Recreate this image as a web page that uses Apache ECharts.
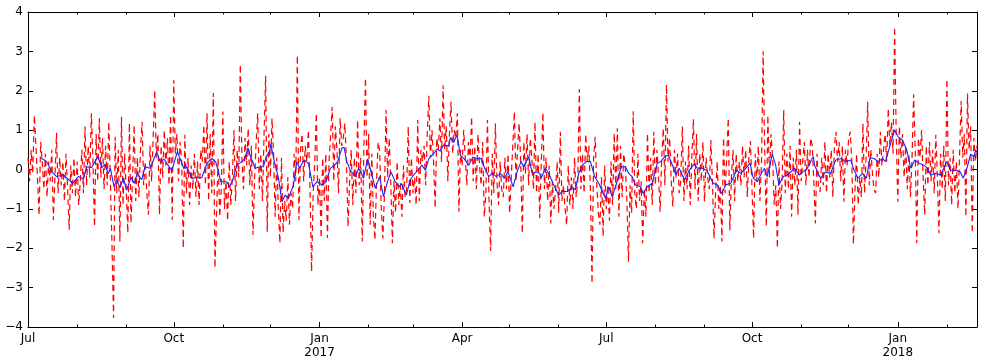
<!DOCTYPE html>
<html>
<head>
<meta charset="utf-8">
<script src="https://cdn.jsdelivr.net/npm/echarts@6/dist/echarts.min.js"></script>
<style>
html,body{margin:0;padding:0;background:#fff;}
#chart{width:986px;height:361px;}
</style>
</head>
<body>
<div id="chart"></div>
<script>
// ---- data ----
const startDate = '2016-07-01';
// daily values (red dashed), one per day from startDate
const dailyValues = [
 0.3,-0.3,0.5,-0.1,1.38,0.6,-0.2,-1.16,0.7,0.2,
 -0.5,0.4,-0.7,0.2,-0.3,0.5,-1.28,-0.2,0.93,-0.6,
 0.3,-0.4,0.2,-0.8,0.4,-0.5,-1.53,0.1,-0.6,0.3,
 -0.7,0.2,-0.9,-0.3,0.5,-0.6,1.09,-0.4,0.6,-0.2,
 1.43,0.2,-1.45,0.9,-0.3,1.3,-0.2,0.8,-0.5,0.6,
 -0.4,1.21,-0.3,-1.9,-3.77,0.83,-0.6,0.5,-1.83,1.34,
 -0.9,0.4,-0.5,-1.61,1.18,-1.36,-0.2,1.13,-0.8,0.3,
 -0.7,0.5,1.21,-0.4,0.2,-0.6,-1.15,0.6,-0.3,0.8,
 2.02,0.3,0.9,-1.15,0.6,-0.2,1.0,0.1,0.8,-0.4,
 1.38,-1.28,2.27,0.4,0.9,-0.3,0.7,0.2,-2.0,0.88,
 -0.6,0.3,-0.9,0.1,-0.5,0.4,-0.7,0.2,-0.9,0.5,
 0.2,1.13,-0.4,1.43,-0.8,0.9,-0.6,1.94,-2.5,-2.5,
 0.3,-1.2,-0.5,1.47,-1.0,-0.3,-1.3,0.2,-0.9,-0.2,
 1.0,-0.8,0.5,-0.2,2.67,0.3,-0.5,0.8,0.1,1.05,
 -0.4,0.6,-1.66,-0.3,0.7,1.43,-0.5,0.4,-0.8,0.9,
 2.38,-1.58,0.9,-0.2,1.3,0.4,-1.2,0.3,-1.0,-1.87,
 0.3,-1.6,-0.8,-1.3,-0.2,-1.4,-0.6,-1.0,0.4,-0.3,
 2.9,-1.28,0.5,0.9,-0.3,0.6,0.2,1.0,-0.5,-2.59,
 -0.6,0.2,1.43,-0.9,-0.2,-1.74,0.3,-0.8,0.4,-1.74,
 0.2,0.9,1.59,-0.3,1.1,0.5,-0.6,1.3,0.6,0.8,
 1.17,0.2,-1.45,-0.3,0.5,-0.9,0.3,-0.6,1.26,-0.4,
 0.3,-1.83,0.6,2.33,-0.2,0.9,-1.4,0.4,-1.2,-1.79,
 -0.3,0.7,0.45,-1.0,-1.75,-0.6,1.51,-0.2,0.8,-0.4,
 -1.87,-0.3,-1.1,0.2,-0.9,-0.4,-1.2,0.1,-0.7,-0.5,
 1.09,-0.85,0.3,-0.6,-0.2,-0.9,1.26,-0.8,0.5,0.2,
 0.6,-0.4,0.9,1.87,0.3,1.0,0.2,-0.98,0.8,0.5,
 1.3,0.2,2.14,0.5,1.1,-0.3,0.9,1.72,0.4,1.0,
 0.8,1.43,-1.07,0.5,0.1,1.0,0.3,-0.4,0.7,0.2,
 1.34,-0.3,0.6,-0.5,0.9,0.1,-0.4,0.7,-1.2,-0.6,
 1.26,-0.8,-2.07,0.4,-0.6,1.17,-0.3,-0.9,0.2,-0.5,
 -0.7,0.3,-0.5,0.4,-1.11,-0.2,0.6,1.47,-0.3,0.5,
 1.18,0.2,-1.62,0.7,-0.1,0.9,-0.4,0.8,0.3,-0.5,
 1.21,-0.6,0.4,-1.23,0.2,1.45,-0.5,0.3,-0.8,0.1,
 -1.37,-0.3,-1.0,-0.5,0.2,-1.1,0.96,-0.8,-0.4,-1.0,
 -1.41,0.1,-0.9,-0.2,-1.0,0.3,-0.7,-0.3,2.04,-0.5,
 0.4,-0.6,0.9,0.2,0.6,-0.5,-2.89,0.3,0.83,-0.4,
 -1.1,-1.4,-0.2,-1.7,0.1,-1.0,-0.4,-1.3,0.2,-0.9,
 0.92,-0.5,1.05,-1.2,0.6,-0.7,0.4,0.1,-0.8,-2.34,
 -0.4,-1.1,1.48,-0.6,-1.0,0.4,-0.8,-0.3,-1.87,-0.5,
 -1.2,0.92,-0.6,0.3,-0.9,0.96,-0.4,0.5,-0.2,-1.07,
 0.3,1.05,-0.4,2.16,0.2,0.8,-0.3,-0.94,0.5,-0.2,
 0.4,-0.6,-0.3,1.09,-0.8,0.2,-0.5,0.6,-0.9,0.3,
 1.28,-0.5,0.9,-0.8,0.4,-0.3,0.7,-0.82,0.3,-0.2,
 -0.5,0.75,-0.3,-1.75,-0.6,0.2,-1.0,-0.4,-1.83,0.81,
 -0.6,0.3,1.3,-1.54,-0.2,0.5,-0.8,0.4,-0.3,0.2,
 -0.4,0.6,-0.2,0.5,-0.7,0.3,0.72,-0.5,-1.75,0.4,
 -0.3,0.6,-0.8,0.2,3.0,0.5,-1.45,1.38,-0.2,0.9,
 0.3,-0.9,-0.4,-2.0,0.2,-1.0,-0.3,1.51,-0.6,0.4,
 -0.5,0.6,-1.2,0.3,-0.4,0.5,-1.15,1.21,-0.3,0.2,
 0.7,-0.4,0.5,-0.2,0.8,0.62,-0.3,-1.37,0.4,-0.5,
 -0.56,0.3,-0.4,0.71,-0.6,0.4,-0.2,0.5,-0.7,0.6,
 0.96,0.2,0.7,-0.3,0.6,-0.82,0.5,0.1,0.8,0.96,
 0.2,-1.9,-0.5,0.4,-0.9,-0.2,-0.7,1.17,-0.6,0.3,
 1.72,-0.4,0.5,-0.1,-0.5,-0.6,0.4,-0.2,0.96,0.1,
 0.5,0.9,0.2,1.55,0.6,1.2,0.4,3.62,0.9,-0.82,
 1.1,0.3,0.9,-0.2,0.6,-0.5,0.4,-0.7,0.3,1.91,
 0.5,-1.87,0.8,0.3,1.0,-0.2,-1.15,0.6,-0.4,0.7,
 -0.3,0.5,-0.6,0.88,-0.2,-1.62,0.4,-0.5,0.6,-0.8,
 2.3,-0.4,0.3,-0.9,0.5,-0.6,0.2,-1.0,0.4,1.74,
 0.3,0.9,-1.2,1.93,0.5,1.1,-1.62,0.8,0.2,0.6
];
// rolling mean (blue), read at day offsets from startDate
const rollDays = [8,11.8,15,18.1,22.3,28.2,31.8,35,37.1,40.2,44,46.6,48.5,50.7,52,54.3,56,58.1,60.1,62.3,65,67,69,71.8,73.9,77,81.3,83.4,86,87.6,90.8,94.3,96.7,98.5,99.3,101.3,103.4,106.5,109.7,112.9,116.1,118.4,119.6,121.7,125.5,127.1,129.3,131.8,134.9,137,138.8,140.2,143.4,146.5,148.6,150.3,152.4,153.3,155,158.1,160.3,162.3,164.4,167.6,169.7,171.4,174.3,177.1,179.8,182.4,185.5,188.2,190.8,193.5,195.4,198.2,199.5,201.3,203.4,206.6,208.7,211.8,214.4,217.1,219.2,221.9,224.4,226.6,229.1,231.8,234.5,235.5,238.8,241.3,243.4,245.9,248.7,250.8,252.9,256.1,258.2,260.2,262.3,265.5,266.6,268.7,270.8,272.9,275.4,278.2,280.9,283.4,286,288.3,290.8,293,295.6,298.2,300.6,303,306.2,308.7,311.2,312.9,316.1,318.2,320.8,323,323.8,326.6,328.7,331.8,335,337.1,340.3,343.4,345.5,347.6,349.8,352.5,355,357.7,360.2,364.5,366.6,368.7,371.8,374.4,377.1,379.2,381.3,383.4,386.6,388.3,390.8,394,397.2,399.3,401.9,404.2,406.8,408.9,411,414.4,417.4,420.3,422.8,425.6,428.3,430.4,432.5,435.1,437.8,440.3,443.5,447.3,449.8,452,455.7,457.8,460.3,462.8,464.9,466.6,469.8,471.9,474,476.8,479.3,482.5,484,486.6,489,491.9,495.7,496.5,499.2,500.3,503.5,506.6,509.8,513.4,516.1,519.3,521.4,523.9,526.7,529.2,531.5,534,536.6,539.3,541.2,543.9,547,549.2,551.9,554.6,557.2,559.7,562.4,565.6,567.7,569.8,573,576.1,579.9,582.4,585.5,588.3,590.4,592.9,595,597.1,598.2,599];
const rollValues = [0.30,0.2,-0.06,-0.18,-0.14,-0.35,-0.18,-0.24,0.07,0.05,0.33,0.05,0.13,-0.1,0.03,-0.44,-0.26,-0.46,-0.22,-0.52,-0.2,-0.35,-0.1,-0.26,0.07,0.03,0.44,0.2,0.26,0.15,-0.02,0.45,0.2,0.01,0.11,-0.02,-0.22,-0.21,-0.21,0.16,0.28,0.2,0.03,-0.31,-0.31,-0.44,-0.26,0.11,0.2,0.28,0.55,0.36,0.03,0.07,0.07,0.32,0.45,0.66,0.28,-0.22,-0.82,-0.65,-0.73,-0.39,0.2,0.03,0.24,0.15,-0.44,-0.31,-0.39,-0.31,0.03,0.11,0.2,0.55,0.56,0.2,-0.02,-0.18,0.03,-0.22,0.27,-0.14,-0.48,-0.18,-0.69,-0.35,-0.06,-0.31,-0.44,-0.35,-0.65,-0.26,-0.14,-0.02,0.11,-0.02,0.27,0.41,0.52,0.47,0.62,0.6,0.81,0.69,0.88,0.36,0.27,0.11,0.32,0.27,0.28,0.03,-0.18,-0.1,-0.18,-0.1,-0.22,-0.06,-0.44,-0.06,0.2,0.07,0.33,-0.1,-0.06,-0.1,-0.22,0.03,-0.1,-0.39,-0.65,-0.56,-0.56,-0.44,-0.52,-0.1,0.11,0.2,0.2,-0.18,-0.35,-0.73,-0.44,-0.69,-0.31,0.07,0.07,-0.1,-0.18,-0.39,-0.44,-0.61,-0.44,-0.35,0.16,0.2,0.33,0.36,0.11,-0.14,0.03,-0.26,-0.02,0.13,0.03,0.03,-0.02,-0.18,-0.35,-0.39,-0.61,-0.39,-0.35,-0.02,-0.1,-0.02,0.16,-0.22,-0.31,-0.1,0.03,-0.18,0.39,0.11,-0.39,-0.18,-0.14,-0.02,0.03,-0.14,-0.06,0.03,0.33,0.11,-0.14,-0.22,-0.06,-0.1,0.24,0.28,0.2,0.24,-0.02,-0.22,-0.1,-0.22,0.3,0.28,0.2,0.28,0.2,0.58,1.0,0.83,0.75,0.5,0.03,0.24,0.16,0.11,0.03,-0.14,-0.1,-0.14,0.2,-0.02,-0.02,-0.06,-0.22,0.07,0.39,0.33,0.5,0.43];
const monthNames = ['Jan','Feb','Mar','Apr','May','Jun','Jul','Aug','Sep','Oct','Nov','Dec'];
const yTicks = [-4,-3,-2,-1,0,1,2,3,4];

// ---- build ----
const DAY = 86400000;
const t0 = Date.parse(startDate + 'T00:00:00Z');
const nDays = dailyValues.length;
const dateCats = [];
for (let i = 0; i < nDays; i++) {
  const d = new Date(t0 + i * DAY);
  dateCats.push(d.toISOString().slice(0, 10));
}
const redData = dailyValues.map((v, i) => [i, v]);
const blueData = rollDays.map((d, i) => [d, rollValues[i]]);

function isMonthStart(v) { return v.slice(8, 10) === '01'; }
function isQuarterStart(v) {
  const m = parseInt(v.slice(5, 7), 10);
  return isMonthStart(v) && (m === 1 || m === 4 || m === 7 || m === 10);
}
function isMinor(v) { return isMonthStart(v) && !isQuarterStart(v); }

const FONT = 'DejaVu Sans';
const AX = '#000';

function catAxis(pos, major, withLine) {
  return {
    type: 'category', position: pos, data: dateCats, boundaryGap: false,
    axisLine: { show: withLine, onZero: false, lineStyle: { color: AX, width: 1 } },
    axisTick: {
      show: true, inside: true, length: major ? 5 : 2.5,
      interval: (idx, v) => major ? isQuarterStart(v) : isMinor(v),
      lineStyle: { color: AX, width: 1 }
    },
    axisLabel: {
      show: major && pos === 'bottom',
      interval: (idx, v) => isQuarterStart(v),
      margin: 5,
      fontFamily: FONT, fontSize: 12, color: '#000', lineHeight: 14,
      formatter: (v) => {
        const m = parseInt(v.slice(5, 7), 10);
        const name = monthNames[m - 1];
        return m === 1 ? name + '\n' + v.slice(0, 4) : name;
      }
    },
    splitLine: { show: false }
  };
}

const yFmt = (v) => (v < 0 ? '\u2212' + (-v) : String(v));

const option = {
  animation: false,
  backgroundColor: '#fff',
  grid: { left: 28, right: 9, top: 12, bottom: 34, containLabel: false },
  xAxis: [
    { type: 'value', min: 0, max: nDays - 1, show: false },
    catAxis('bottom', true, true),
    catAxis('bottom', false, false),
    catAxis('top', true, true),
    catAxis('top', false, false)
  ],
  yAxis: [
    {
      type: 'value', position: 'left', min: yTicks[0], max: yTicks[yTicks.length - 1], interval: 1,
      axisLine: { show: true, onZero: false, lineStyle: { color: AX, width: 1 } },
      axisTick: { show: true, inside: true, length: 5, lineStyle: { color: AX } },
      axisLabel: { fontFamily: FONT, fontSize: 12, color: '#000', margin: 5, formatter: yFmt },
      splitLine: { show: false }
    },
    {
      type: 'value', position: 'right', min: yTicks[0], max: yTicks[yTicks.length - 1], interval: 1,
      axisLine: { show: true, onZero: false, lineStyle: { color: AX, width: 1 } },
      axisTick: { show: true, inside: true, length: 5, lineStyle: { color: AX } },
      axisLabel: { show: false },
      splitLine: { show: false }
    }
  ],
  series: [
    {
      type: 'line', xAxisIndex: 0, yAxisIndex: 0, data: redData,
      showSymbol: false, symbol: 'none',
      lineStyle: { color: '#ff0000', width: 1.2, type: [6, 4] },
      z: 2
    },
    {
      type: 'line', xAxisIndex: 0, yAxisIndex: 0, data: blueData,
      showSymbol: false, symbol: 'none',
      lineStyle: { color: '#2020ff', width: 1.1 },
      z: 3
    }
  ]
};

const chart = echarts.init(document.getElementById('chart'), null, { renderer: 'canvas' });
chart.setOption(option);
</script>
</body>
</html>
